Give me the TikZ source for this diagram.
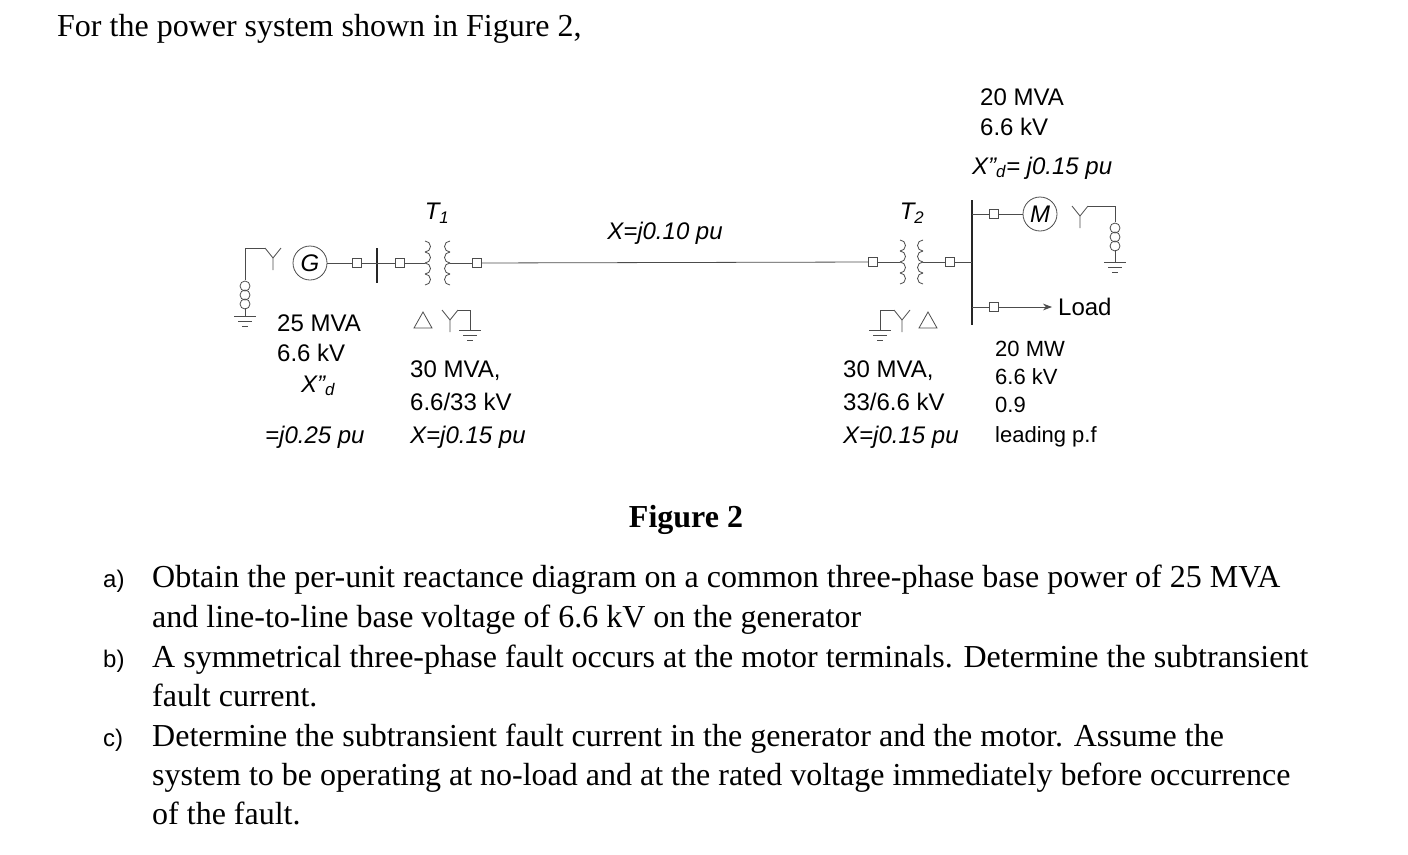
\documentclass[tikz,border=0pt]{standalone}
\usepackage{fontspec}
\setmainfont{Liberation Serif}
\setsansfont{Liberation Sans}
\usetikzlibrary{arrows.meta}

\tikzset{
  brk/.style={draw=gray!60!black,thick,fill=white,minimum size=9pt,inner sep=0pt},
  mach/.style={circle,draw=gray!60!black,thick,minimum size=34pt,inner sep=0pt,font=\sffamily\itshape\fontsize{24}{24}\selectfont},
  wire/.style={gray!60!black,thick},
  lbl/.style={font=\sffamily\fontsize{24}{26}\selectfont,inner sep=0pt,anchor=base west},
  ilbl/.style={lbl,font=\sffamily\itshape\fontsize{24}{26}\selectfont},
  slbl/.style={font=\sffamily\fontsize{22}{24}\selectfont,inner sep=0pt,anchor=base west},
  txt/.style={font=\fontsize{32}{36}\selectfont,inner sep=0pt,anchor=base west},
}
% winding: x, top y, direction (+1 right, -1 left)
\newcommand\wind[3]{%
  \foreach \k in {0,1,2,3}
    \draw[wire] (#1,#2+11*\k) arc[start angle=90,end angle=-90,x radius=#3*5.5pt,y radius=5.5pt];}
% ground symbol at x, y
\newcommand\gnd[2]{%
  \draw[wire] (#1-11,#2) -- (#1+11,#2) (#1-7,#2+5) -- (#1+7,#2+5) (#1-3,#2+10) -- (#1+3,#2+10);}
% star symbol at x, y (centre of the Y)
\newcommand\wye[2]{%
  \draw[wire] (#1-8,#2-10) -- (#1,#2) -- (#1+8,#2-10) (#1,#2) -- (#1,#2+12);}
\newcommand\delt[2]{%
  \draw[wire] (#1-9,#2+8) -- (#1,#2-8) -- (#1+9,#2+8) -- cycle;}

\begin{document}
\begin{tikzpicture}[x=1pt,y=-1pt]
\useasboundingbox (0,0) rectangle (1408,854);

\node[txt] at (57,36) {For the power system shown in Figure 2,};

% generator side
\node[mach] (G) at (310,263) {G};
\node[brk] (b1) at (357,263) {};
\coordinate (bus1t) at (377,248);
\coordinate (bus1b) at (377,283);
\draw[line width=2pt,gray!30!black] (bus1t) -- (bus1b);
\node[brk] (b2) at (400,263) {};
\node[brk] (b3) at (477,263) {};
\draw[wire] (G) -- (b1) -- (b2) -- (425,263);
\draw[wire] (450,263) -- (b3);
\wind{425}{241}{1}
\wind{450}{241}{-1}
\node[font=\sffamily\itshape\fontsize{24}{24}\selectfont] at (437,213) {T\textsubscript{1}};
\wye{273}{258}
\draw[wire] (265,248) -- (245,248) -- (245,280);
\foreach \k in {0,1,2} \draw[wire] (245,286+9*\k) ellipse[x radius=5pt,y radius=5pt];
\draw[wire] (245,308) -- (245,316);
\gnd{245}{316}
\delt{423}{320}
\wye{450}{320}
\draw[wire] (458,310) -- (470,310) -- (470,330);
\gnd{470}{330}

% line
\node[brk] (b4) at (873,262) {};
\draw[wire] (b3) -- (b4);
\node[font=\sffamily\itshape\fontsize{24}{24}\selectfont] at (665,233) {X=j0.10 pu};

% motor side
\wind{900}{240}{1}
\wind{923}{240}{-1}
\node[brk] (b5) at (950,262) {};
\draw[wire] (b4) -- (900,262) (923,262) -- (b5);
\coordinate (bus2t) at (972,200);
\coordinate (bus2b) at (972,325);
\draw[line width=2pt,gray!30!black] (bus2t) -- (bus2b);
\draw[wire] (b5) -- (972,262);
\node[font=\sffamily\itshape\fontsize{24}{24}\selectfont] at (912,213) {T\textsubscript{2}};
\gnd{880}{330}
\draw[wire] (880,330) -- (880,310) -- (894,310);
\wye{902}{320}
\delt{928}{320}

\node[brk] (b6) at (994,214) {};
\node[mach] (M) at (1040,214) {M};
\draw[wire] (972,214) -- (b6) -- (M);
\wye{1080}{216}
\draw[wire] (1088,206) -- (1115,206) -- (1115,222);
\foreach \k in {0,1,2} \draw[wire] (1115,228+9*\k) ellipse[x radius=5pt,y radius=5pt];
\draw[wire] (1115,250) -- (1115,262);
\gnd{1115}{262}

\node[brk] (b7) at (994,307) {};
\node[font=\sffamily\fontsize{24}{24}\selectfont,anchor=west,inner sep=0pt] (load) at (1058,307) {Load};
\draw[wire] (972,307) -- (b7);
\draw[wire,-{Stealth[length=9pt]},shorten >=6pt] (b7) -- (load);

% labels
\node[lbl] at (980,105) {20 MVA};
\node[lbl] at (980,135) {6.6 kV};
\node[ilbl] at (972,174) {X''\textsubscript{d}= j0.15 pu};
\node[lbl] at (277,331) {25 MVA};
\node[lbl] at (277,361) {6.6 kV};
\node[ilbl,anchor=base] at (318,392) {X''\textsubscript{d}};
\node[ilbl] at (265,443) {=j0.25 pu};
\node[lbl] at (410,377) {30 MVA,};
\node[lbl] at (410,410) {6.6/33 kV};
\node[ilbl] at (410,443) {X=j0.15 pu};
\node[lbl] at (843,377) {30 MVA,};
\node[lbl] at (843,410) {33/6.6 kV};
\node[ilbl] at (843,443) {X=j0.15 pu};
\node[slbl] at (995,356) {20 MW};
\node[slbl] at (995,384) {6.6 kV};
\node[slbl] at (995,412) {0.9};
\node[slbl] at (995,442) {leading p.f};

\node[txt,anchor=base,font=\bfseries\fontsize{32}{36}\selectfont] at (686,527) {Figure 2};

% questions
\node[lbl] at (103,587) {a)};
\node[txt] at (152,587) {Obtain the per-unit reactance diagram on a common three-phase base power of 25 MVA};
\node[txt] at (152,627) {and line-to-line base voltage of 6.6 kV on the generator};
\node[lbl] at (103,667) {b)};
\node[txt] at (152,667) {A symmetrical three-phase fault occurs at the motor terminals. Determine the subtransient};
\node[txt] at (152,706) {fault current.};
\node[lbl] at (103,746) {c)};
\node[txt] at (152,746) {Determine the subtransient fault current in the generator and the motor. Assume the};
\node[txt] at (152,785) {system to be operating at no-load and at the rated voltage immediately before occurrence};
\node[txt] at (152,824) {of the fault.};
\end{tikzpicture}
\end{document}
